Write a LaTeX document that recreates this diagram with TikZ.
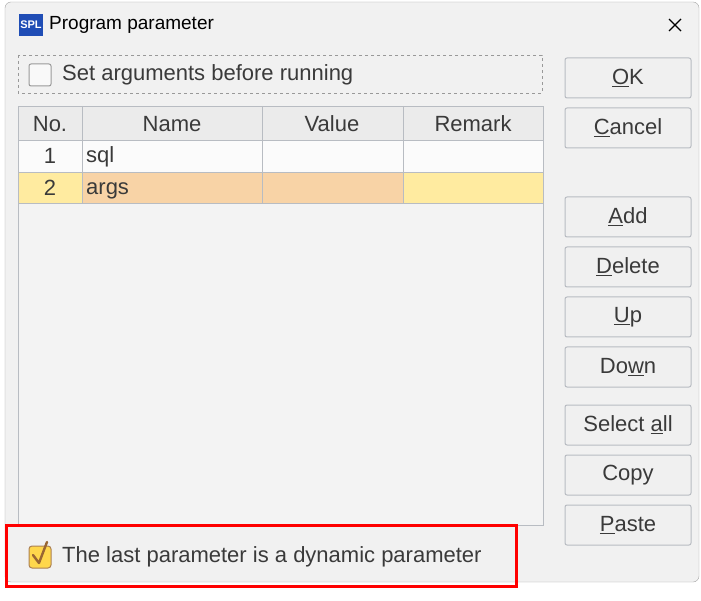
\documentclass[tikz,border=0pt]{standalone}
\usepackage{fontspec}
\setmainfont{Liberation Sans}
\definecolor{winbg}{HTML}{F1F1F1}
\definecolor{txt}{HTML}{3A3A3A}
\definecolor{hdr}{HTML}{EBEBEB}
\definecolor{grid}{HTML}{B8BCC2}
\definecolor{orng}{HTML}{F8D3A6}
\definecolor{yell}{HTML}{FFEBA0}
\definecolor{btn}{HTML}{F0F0F0}
\definecolor{body}{HTML}{F3F3F3}
\definecolor{splblue}{HTML}{1F4DB5}
\begin{document}
\begin{tikzpicture}[x=1pt,y=-1pt,
  lbl/.style={font=\fontsize{22}{24}\selectfont, text=txt, inner sep=0pt},
  btnbox/.style={draw=grid, line width=1pt, fill=btn, rounded corners=2pt, minimum width=126pt, minimum height=40pt, font=\fontsize{22}{24}\selectfont, text=txt, inner sep=0pt},
  cell/.style={draw=grid, line width=0.8pt}]
\useasboundingbox (0,0) rectangle (701,601);
\fill[white] (0,0) rectangle (701,601);
\draw[draw=gray!70, fill=winbg, rounded corners=6pt] (5,2) rectangle (699,582);
% title
\node[fill=splblue, minimum width=24pt, minimum height=22pt, inner sep=0pt, text=white, font=\bfseries\fontsize{11}{12}\selectfont] (icon) at (31,25) {SPL};
\node[lbl, anchor=west, text=black, font=\fontsize{19}{22}\selectfont] (title) at (49,25) {Program parameter};
\draw[line width=1.1pt] (669,19) -- (681,31) (681,19) -- (669,31);
\coordinate (closex) at (675,25);
% dashed group
\draw[dashed, draw=gray!80] (18,55) rectangle (542,93);
\draw[draw=gray!80, fill=white!95!gray, rounded corners=2pt, line width=1pt] (29,64) rectangle (51,86);
\node[lbl, anchor=west] (setargs) at (62,75) {Set arguments before running};
% table
\fill[body] (18,106) rectangle (543,525);
\fill[hdr] (18,106) rectangle (543,140);
\fill[white!97!gray] (18,140) rectangle (543,172);
\fill[yell] (18,172) rectangle (82,203);
\fill[orng] (82,172) rectangle (403,203);
\fill[yell] (403,172) rectangle (543,203);
\draw[cell] (18,140) -- (543,140) (18,172) -- (543,172) (18,203) -- (543,203);
\draw[cell] (82,106) -- (82,203) (262,106) -- (262,203) (403,106) -- (403,203);
\draw[cell] (18,106) rectangle (543,525);
\node[lbl] (hno) at (50,124) {No.};
\node[lbl] (hname) at (172,124) {Name};
\node[lbl] (hval) at (332,124) {Value};
\node[lbl] (hrem) at (473,124) {Remark};
\node[lbl] (r1n) at (50,156) {1};
\node[lbl, anchor=base west] (r1) at (86,163) {sql};
\node[lbl] (r2n) at (50,188) {2};
\node[lbl, anchor=base west] (r2) at (86,195) {args};
% buttons
\node[btnbox] (ok) at (628,78) {\underline{O}K};
\node[btnbox] (cancel) at (628,128) {\underline{C}ancel};
\node[btnbox] (add) at (628,217) {\underline{A}dd};
\node[btnbox] (del) at (628,267) {\underline{D}elete};
\node[btnbox] (up) at (628,317) {\underline{U}p};
\node[btnbox] (down) at (628,367) {Do\underline{w}n};
\node[btnbox] (sel) at (628,425) {Select \underline{a}ll};
\node[btnbox] (copy) at (628,475) {Copy};
\node[btnbox] (paste) at (628,525) {\underline{P}aste};
% bottom checkbox
\draw[draw=brown!70!gray, fill=orange!45!yellow!70, rounded corners=3pt, line width=1pt] (29,546) rectangle (51,568);
\draw[draw=brown!80!black, line width=2.4pt, line cap=round, line join=round] (33,555) -- (39,563) -- (47,542);
\node[lbl, anchor=west] (dyn) at (62,557) {The last parameter is a dynamic parameter};
\draw[red, line width=3pt] (6,525) rectangle (516,586);
\end{tikzpicture}
\end{document}
